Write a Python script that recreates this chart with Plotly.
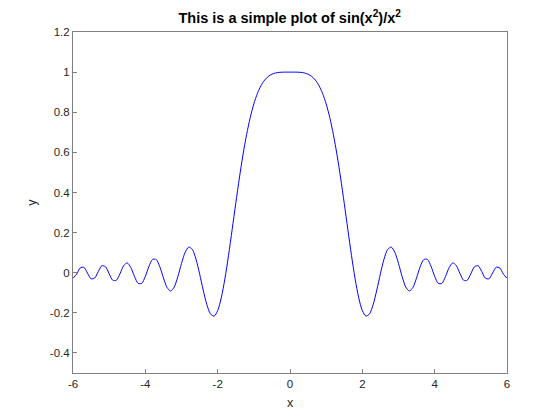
import plotly.graph_objects as go

# sampled values of sin(x^2)/x^2, read at x = 0, 0.1, ..., 6.0 (curve is symmetric)
x_half = [round(i * 0.1, 1) for i in range(61)]
y_half = [
    1.0, 0.99998, 0.99973, 0.99865, 0.99574, 0.98962, 0.97854, 0.96046, 0.93312, 0.89418,
    0.84147, 0.77324, 0.68851, 0.58752, 0.47205, 0.34581, 0.21459, 0.08614, -0.03032, -0.12499,
    -0.18920, -0.21649, -0.20494, -0.15829, -0.08666, -0.00531, 0.06789, 0.11593, 0.12754, 0.10105,
    0.04579, -0.01916, -0.07108, -0.09131, -0.07312, -0.02540, 0.02959, 0.06586, 0.06613, 0.03138,
    -0.01799, -0.05307, -0.05302, -0.01903, 0.02524, 0.04867, 0.03493, -0.00447, -0.03763, -0.03753,
    -0.00529, 0.02957, 0.03491, 0.00653, -0.02655, -0.03039, -0.00178, 0.02706, 0.02362, -0.00718,
    -0.02755,
]
x_vals = [-v for v in x_half[:0:-1]] + x_half
y_vals = y_half[:0:-1] + y_half

x_ticks = [-6, -4, -2, 0, 2, 4, 6]
y_ticks = [-0.4, -0.2, 0, 0.2, 0.4, 0.6, 0.8, 1, 1.2]

fig = go.Figure(go.Scatter(x=x_vals, y=y_vals, mode="lines",
                           line=dict(color="#0000ff", width=1, shape="spline", smoothing=0.8)))

axis_style = dict(showline=True, linecolor="#808080", linewidth=1, mirror=True,
                  ticks="inside", ticklen=4, tickcolor="#808080", showgrid=False,
                  zeroline=False, tickfont=dict(size=11.5, color="#262626"))

# page body adds ~8px offset, margins compensate
fig.update_layout(
    width=560, height=420,
    paper_bgcolor="white", plot_bgcolor="white",
    margin=dict(l=65, r=61, t=24, b=55),
    font=dict(family="Liberation Sans, Arial, sans-serif", color="#262626"),
    title=dict(text="<b>This is a simple plot of sin(x<sup>2</sup>)/x<sup>2</sup></b>",
               xref="container", x=0.503, xanchor="center",
               yref="container", y=0.976, yanchor="middle",
               font=dict(size=14.5, color="black")),
    showlegend=False,
)
fig.update_xaxes(range=[-6, 6], tickvals=x_ticks, ticktext=[str(t) for t in x_ticks],
                 title=dict(text="x", standoff=9, font=dict(size=12.5)), **axis_style)
fig.update_yaxes(range=[-0.5, 1.2], tickvals=y_ticks,
                 ticktext=["-0.4", "-0.2", "0", "0.2", "0.4", "0.6", "0.8", "1", "1.2"],
                 title=dict(text="y", standoff=10, font=dict(size=12.5)), **axis_style)

fig.write_html("out.html")
